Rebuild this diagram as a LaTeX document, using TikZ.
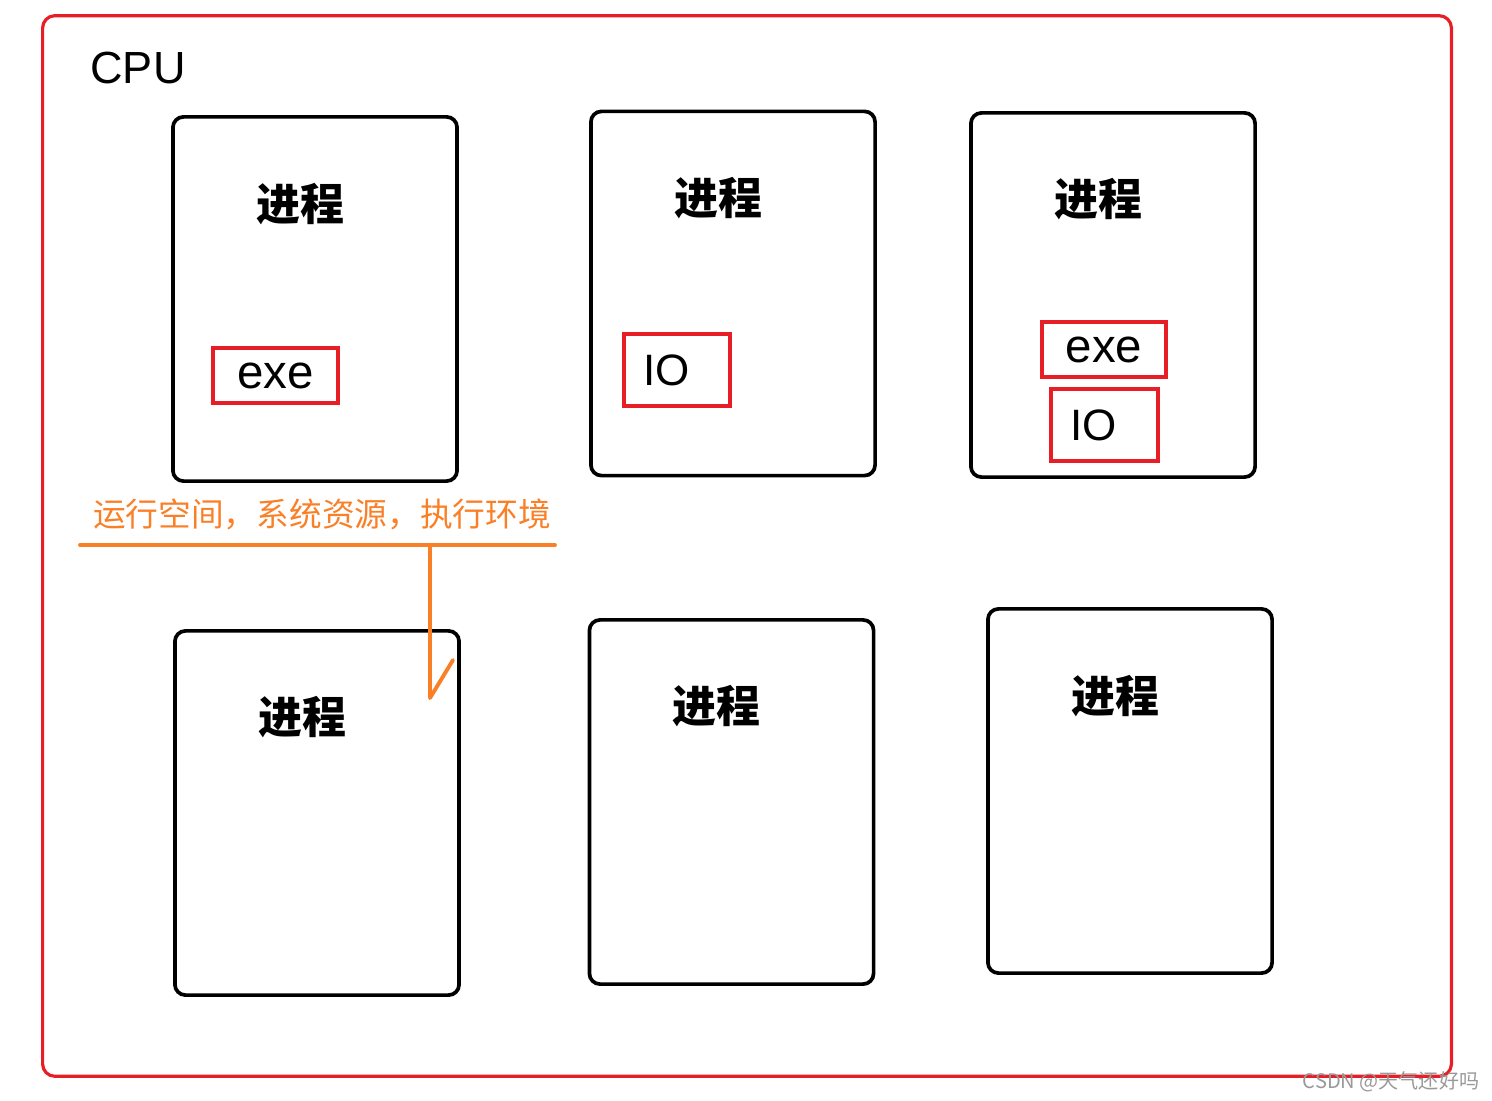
\documentclass[tikz,border=0pt]{standalone}
\usepackage{fontspec}
\setmainfont{Liberation Sans}
\newfontfamily\cjk{Noto Sans CJK SC}

\definecolor{cpured}{RGB}{232,30,38}
\definecolor{noteorange}{RGB}{250,128,40}

\begin{document}
\begin{tikzpicture}[x=0.01cm, y=-0.01cm,
	proc/.style={draw=black, line width=1.05pt, rounded corners=3pt, minimum width=2.84cm, minimum height=3.64cm, inner sep=0pt},
	title/.style={font=\cjk\bfseries\fontsize{12.5}{14}\selectfont},
	tag/.style={draw=cpured, line width=0.9pt, inner sep=0pt, font=\fontsize{13.5}{16}\selectfont},
	orangeline/.style={noteorange, line width=1.1pt, line cap=round, line join=round}]
	\useasboundingbox (0,0) rectangle (1492,1101);

	% CPU frame
	\node[draw=cpured, line width=0.9pt, rounded corners=3.5pt, minimum width=14.08cm, minimum height=10.6cm] (cpu) at (747,546) {};
	\node[font=\fontsize{12.8}{15}\selectfont] (cpulabel) at (138,68) {CPU};

	% Processes
	\node[proc] (p1) at (315,299) {};
	\node[proc] (p2) at (733,293.5) {};
	\node[proc] (p3) at (1113,295) {};
	\node[proc] (p4) at (317,813) {};
	\node[proc] (p5) at (731.5,802) {};
	\node[proc] (p6) at (1130,791) {};

	\node[title] (t1) at (300,204) {进程};
	\node[title] (t2) at (718,198) {进程};
	\node[title] (t3) at (1098,199) {进程};
	\node[title] (t4) at (302,717) {进程};
	\node[title] (t5) at (716,706) {进程};
	\node[title] (t6) at (1115,696) {进程};

	% exe / IO
	\node[tag, minimum width=1.25cm, minimum height=0.55cm] (exe1) at (275.5,375.5) {exe};
	\node[tag, minimum width=1.24cm, minimum height=0.55cm] (exe3) at (1104,349.5) {exe};
	\node[tag, minimum width=1.06cm, minimum height=0.72cm, font=\fontsize{12.5}{15}\selectfont] (io2) at (677,370) {\raisebox{-2pt}{IO}\kern6pt};
	\node[tag, minimum width=1.07cm, minimum height=0.72cm, font=\fontsize{12.5}{15}\selectfont] (io3) at (1104.5,425) {\raisebox{-2pt}{IO}\kern6pt};

	% Note
	\node[text=noteorange, font=\cjk\fontsize{9.3}{11}\selectfont] (env) at (322,514) {运行空间，系统资源，执行环境};
	\coordinate (ul) at (80,545);
	\coordinate (ur) at (555,545);
	\coordinate (stem) at (430,545);
	\coordinate (tip) at (430,698);
	\coordinate (hook) at (453,660);
	\draw[orangeline] (ul) -- (ur);
	\draw[orangeline] (stem) -- (tip) -- (hook);

	% Watermark
	\node[text=gray!80, font=\cjk\fontsize{5.7}{6}\selectfont] (mark) at (1391,1082) {CSDN @天气还好吗};
\end{tikzpicture}
\end{document}
